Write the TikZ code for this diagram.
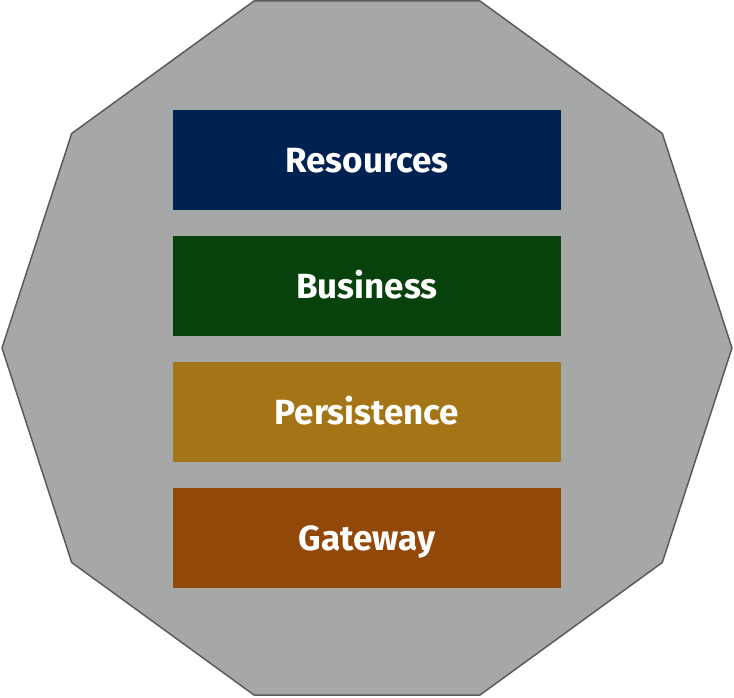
\documentclass[tikz,border=0pt]{standalone}
\usepackage{fontspec}
\setmainfont{Fira Sans}
\usetikzlibrary{calc}

\definecolor{grigio}{HTML}{A6A8A7}
\definecolor{bordo}{HTML}{5A5B5A}
\definecolor{blu}{HTML}{002252}
\definecolor{verde}{HTML}{07420D}
\definecolor{oro}{HTML}{A47516}
\definecolor{ruggine}{HTML}{924808}

\tikzset{
  strato/.style={minimum width=388pt, minimum height=100pt, inner sep=0pt,
    text height=26pt, text depth=0pt,
    text=white, font=\fontsize{35}{40}\selectfont\bfseries}
}

\begin{document}
\begin{tikzpicture}[x=1pt,y=1pt]

\useasboundingbox (0,0) rectangle (734,698);

\begin{scope}
\pgfmathsetmacro{\raggio}{365}
\coordinate (o) at (367,350);

% decagono
\draw[fill=grigio, draw=bordo, line width=1.5pt, line join=round]
  ($(o)+(72:\raggio)$) -- ($(o)+(108:\raggio)$) -- ($(o)+(144:\raggio)$)
  -- ($(o)+(180:\raggio)$) -- ($(o)+(216:\raggio)$) -- ($(o)+(252:\raggio)$)
  -- ($(o)+(288:\raggio)$) -- ($(o)+(324:\raggio)$) -- ($(o)+(0:\raggio)$)
  -- ($(o)+(36:\raggio)$) -- cycle;

\node[strato, fill=blu] (resources) at (367,538) {Resources};
\node[strato, fill=verde] (business) at (367,412) {Business};
\node[strato, fill=oro] (persistence) at (367,286) {Persistence};
\node[strato, fill=ruggine] (gateway) at (367,160) {Gateway};

\end{scope}

\end{tikzpicture}
\end{document}
